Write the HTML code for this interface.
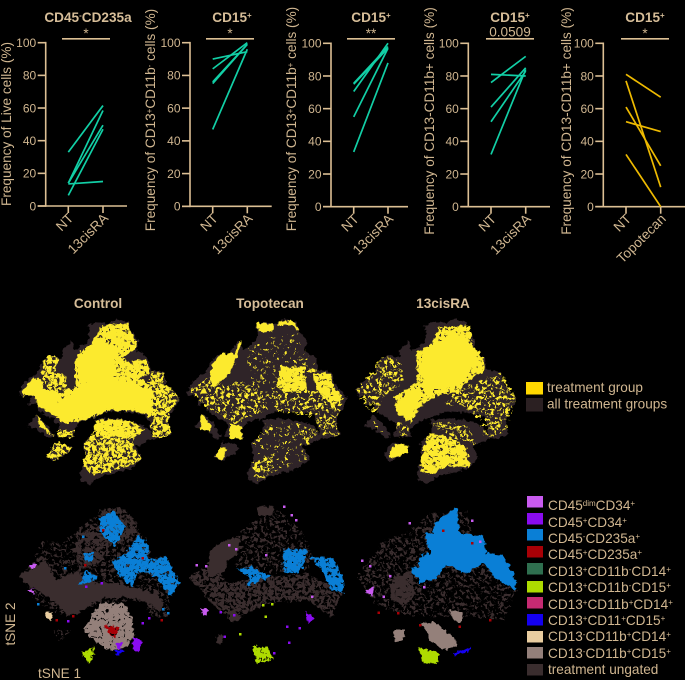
<!DOCTYPE html>
<html lang="en">
<head>
<meta charset="utf-8">
<title>Treatment response and tSNE maps</title>
<style>
html,body{margin:0;padding:0;background:#000;}
svg{display:block;font-family:"Liberation Sans",sans-serif;}
.t{fill:#d0b690;font-size:13.6px;}
.k{fill:#d0b690;font-size:12px;}
.b{fill:#d6bd98;font-size:13.6px;font-weight:bold;}
</style>
</head>
<body>
<svg id="fig" xmlns="http://www.w3.org/2000/svg" width="685" height="680" viewBox="0 0 685 680">
<defs>
<filter id="rough" filterUnits="userSpaceOnUse" x="0" y="280" width="685" height="400" color-interpolation-filters="sRGB">
<feTurbulence type="fractalNoise" baseFrequency="0.24" numOctaves="2" seed="4"/>
<feDisplacementMap in="SourceGraphic" scale="6" xChannelSelector="R" yChannelSelector="G"/>
</filter>
<filter id="speckD" filterUnits="userSpaceOnUse" x="0" y="280" width="685" height="400" color-interpolation-filters="sRGB">
<feTurbulence type="fractalNoise" baseFrequency="0.33" numOctaves="2" seed="11" result="n"/>
<feColorMatrix in="n" type="matrix" values="0 0 0 0 0 0 0 0 0 0 0 0 0 0 0 18 0 0 0 -5.4" result="m"/>
<feComposite in="SourceGraphic" in2="m" operator="in"/>
</filter>
<filter id="speckM" filterUnits="userSpaceOnUse" x="0" y="280" width="685" height="400" color-interpolation-filters="sRGB">
<feTurbulence type="fractalNoise" baseFrequency="0.33" numOctaves="2" seed="23" result="n"/>
<feColorMatrix in="n" type="matrix" values="0 0 0 0 0 0 0 0 0 0 0 0 0 0 0 18 0 0 0 -7.6" result="m"/>
<feComposite in="SourceGraphic" in2="m" operator="in"/>
</filter>
<filter id="speckS" filterUnits="userSpaceOnUse" x="0" y="280" width="685" height="400" color-interpolation-filters="sRGB">
<feTurbulence type="fractalNoise" baseFrequency="0.33" numOctaves="2" seed="37" result="n"/>
<feColorMatrix in="n" type="matrix" values="0 0 0 0 0 0 0 0 0 0 0 0 0 0 0 18 0 0 0 -9.7" result="m"/>
<feComposite in="SourceGraphic" in2="m" operator="in"/>
</filter>
<filter id="speckX" filterUnits="userSpaceOnUse" x="0" y="280" width="685" height="400" color-interpolation-filters="sRGB">
<feTurbulence type="fractalNoise" baseFrequency="0.33" numOctaves="2" seed="51" result="n"/>
<feColorMatrix in="n" type="matrix" values="0 0 0 0 0 0 0 0 0 0 0 0 0 0 0 18 0 0 0 -11.5" result="m"/>
<feComposite in="SourceGraphic" in2="m" operator="in"/>
</filter>
</defs>

<!-- chart titles -->
<text class="b" x="88" y="22" text-anchor="middle">CD45<tspan dy="-4" font-size="8">-</tspan><tspan dy="4">CD235a</tspan></text>
<text class="b" x="232" y="22" text-anchor="middle">CD15<tspan dy="-4" font-size="8">+</tspan></text>
<text class="b" x="371" y="22" text-anchor="middle">CD15<tspan dy="-4" font-size="8">+</tspan></text>
<text class="b" x="510" y="22" text-anchor="middle">CD15<tspan dy="-4" font-size="8">+</tspan></text>
<text class="b" x="645" y="22" text-anchor="middle">CD15<tspan dy="-4" font-size="8">+</tspan></text>

<!-- y axis titles -->
<text class="t" transform="translate(11,124) rotate(-90)" text-anchor="middle">Frequency of Live cells (%)</text>
<text class="t" transform="translate(155,120) rotate(-90)" text-anchor="middle">Frequency of CD13<tspan dy="-3" font-size="8">+</tspan><tspan dy="3">CD11b</tspan><tspan dy="-3" font-size="8">-</tspan><tspan dy="3"> cells (%)</tspan></text>
<text class="t" transform="translate(296,119) rotate(-90)" text-anchor="middle">Frequency of CD13<tspan dy="-3" font-size="8">+</tspan><tspan dy="3">CD11b</tspan><tspan dy="-3" font-size="8">+</tspan><tspan dy="3"> cells (%)</tspan></text>
<text class="t" transform="translate(434,121) rotate(-90)" text-anchor="middle">Frequency of CD13-CD11b+ cells (%)</text>
<text class="t" transform="translate(571,121) rotate(-90)" text-anchor="middle">Frequency of CD13-CD11b+ cells (%)</text>

<g id="charts"></g>

<!-- tSNE headings -->
<text class="b" x="98" y="308" text-anchor="middle">Control</text>
<text class="b" x="270" y="308" text-anchor="middle">Topotecan</text>
<text class="b" x="443" y="308" text-anchor="middle">13cisRA</text>

<g id="tsne"></g>

<!-- treatment legend -->
<g>
<rect x="526" y="382" width="17" height="12.5" fill="#ffd800"/>
<text class="t" x="547" y="392">treatment group</text>
<rect x="526" y="398" width="17" height="13.5" fill="#2b2022"/>
<text class="t" x="547" y="408.5">all treatment groups</text>
</g>

<!-- population legend -->
<g>
<rect x="527" y="496" width="16" height="11.5" fill="#c95bf0"/>
<text class="t" x="548" y="510">CD45<tspan dy="-4" font-size="8">dim</tspan><tspan dy="4">CD34</tspan><tspan dy="-4" font-size="8">+</tspan></text>
<rect x="527" y="513" width="16" height="11.5" fill="#8a0cf0"/>
<text class="t" x="548" y="527">CD45<tspan dy="-4" font-size="8">+</tspan><tspan dy="4">CD34</tspan><tspan dy="-4" font-size="8">+</tspan></text>
<rect x="527" y="529" width="16" height="11.5" fill="#0a7fd6"/>
<text class="t" x="548" y="543">CD45<tspan dy="-4" font-size="8">-</tspan><tspan dy="4">CD235a</tspan><tspan dy="-4" font-size="8">+</tspan></text>
<rect x="527" y="546" width="16" height="11.5" fill="#a80006"/>
<text class="t" x="548" y="559">CD45<tspan dy="-4" font-size="8">+</tspan><tspan dy="4">CD235a</tspan><tspan dy="-4" font-size="8">+</tspan></text>
<rect x="527" y="563" width="16" height="11.5" fill="#2f6f4f"/>
<text class="t" x="548" y="576">CD13<tspan dy="-4" font-size="8">+</tspan><tspan dy="4">CD11b</tspan><tspan dy="-4" font-size="8">-</tspan><tspan dy="4">CD14</tspan><tspan dy="-4" font-size="8">+</tspan></text>
<rect x="527" y="581" width="16" height="11.5" fill="#aedb00"/>
<text class="t" x="548" y="592">CD13<tspan dy="-4" font-size="8">+</tspan><tspan dy="4">CD11b</tspan><tspan dy="-4" font-size="8">-</tspan><tspan dy="4">CD15</tspan><tspan dy="-4" font-size="8">+</tspan></text>
<rect x="527" y="597" width="16" height="11.5" fill="#c62a72"/>
<text class="t" x="548" y="609">CD13<tspan dy="-4" font-size="8">+</tspan><tspan dy="4">CD11b</tspan><tspan dy="-4" font-size="8">+</tspan><tspan dy="4">CD14</tspan><tspan dy="-4" font-size="8">+</tspan></text>
<rect x="527" y="614" width="16" height="11.5" fill="#1400f0"/>
<text class="t" x="548" y="625">CD13<tspan dy="-4" font-size="8">+</tspan><tspan dy="4">CD11</tspan><tspan dy="-4" font-size="8">+</tspan><tspan dy="4">CD15</tspan><tspan dy="-4" font-size="8">+</tspan></text>
<rect x="527" y="631" width="16" height="11.5" fill="#e9cda0"/>
<text class="t" x="548" y="641">CD13<tspan dy="-4" font-size="8">-</tspan><tspan dy="4">CD11b</tspan><tspan dy="-4" font-size="8">+</tspan><tspan dy="4">CD14</tspan><tspan dy="-4" font-size="8">+</tspan></text>
<rect x="527" y="647" width="16" height="11.5" fill="#94807a"/>
<text class="t" x="548" y="658">CD13<tspan dy="-4" font-size="8">-</tspan><tspan dy="4">CD11b</tspan><tspan dy="-4" font-size="8">+</tspan><tspan dy="4">CD15</tspan><tspan dy="-4" font-size="8">+</tspan></text>
<rect x="527" y="664" width="16" height="11.5" fill="#3a2d2e"/>
<text class="t" x="548" y="674">treatment ungated</text>
</g>

<text class="t" transform="translate(15,624) rotate(-90)" text-anchor="middle">tSNE 2</text>
<text class="t" x="38" y="678">tSNE 1</text>

<script>
const NS = 'http://www.w3.org/2000/svg';
const yTicks = [0, 20, 40, 60, 80, 100];

// paired line chart values
const liveBefore = [33, 14, 14, 13.5, 6.5];
const liveAfter = [61.5, 58.5, 49.5, 15, 47];
const cd11bNegBefore = [90, 84, 76, 75, 47];
const cd11bNegAfter = [94.5, 100, 99, 99, 96];
const cd11bPosBefore = [75.5, 75, 70.5, 55, 33.5];
const cd11bPosAfter = [98, 97, 100, 97, 88];
const negPosBefore = [81, 76, 61, 52, 32];
const negPosAfter = [80, 92, 85, 83, 84];
const topoBefore = [81, 77, 61, 52, 32];
const topoAfter = [67, 12, 25, 46, 0];

const charts = [
  {name:'live', ax:45.7, top:42.7, base:206, x0:68.3, x1:103, end:127, before:liveBefore, after:liveAfter, color:'#12cfa6', labels:['NT','13cisRA'], sig:'*', sigX:[62,110]},
  {name:'cd11b-neg', ax:190, top:42.7, base:206.3, x0:212.7, x1:247.3, end:271.7, before:cd11bNegBefore, after:cd11bNegAfter, color:'#12cfa6', labels:['NT','13cisRA'], sig:'*', sigX:[206,254]},
  {name:'cd11b-pos', ax:331, top:43.3, base:206.7, x0:353.7, x1:388, end:408, before:cd11bPosBefore, after:cd11bPosAfter, color:'#12cfa6', labels:['NT','13cisRA'], sig:'**', sigX:[347,395]},
  {name:'neg-pos', ax:468.3, top:43.3, base:206.7, x0:491, x1:525.7, end:550, before:negPosBefore, after:negPosAfter, color:'#12cfa6', labels:['NT','13cisRA'], sig:'0.0509', sigX:[486,534]},
  {name:'topotecan', ax:603.3, top:43.3, base:206.7, x0:626, x1:660.7, end:685, before:topoBefore, after:topoAfter, color:'#eeba00', labels:['NT','Topotecan'], sig:'*', sigX:[621,669]}
];

function mk(parent, tag, attrs, text) {
  const el = document.createElementNS(NS, tag);
  for (const k in attrs) el.setAttribute(k, attrs[k]);
  if (text !== undefined) el.textContent = text;
  parent.appendChild(el);
  return el;
}

const AXIS = '#dcbf94';
const chartRoot = document.getElementById('charts');
charts.forEach(function (c) {
  const g = mk(chartRoot, 'g', {});
  
  
  const yScale = function (v) { return c.base - (c.base - c.top) * v / 100; };
  const xScale = function (i) { return i === 0 ? c.x0 : c.x1; };

  const yAxis = mk(g, 'line', {x1:c.ax, x2:c.ax, y1:c.top - 0.8, y2:c.base + 0.8, stroke:AXIS, 'stroke-width':1.6});
  
  
  const xAxis = mk(g, 'line', {x1:c.ax - 8, x2:c.end, y1:c.base, y2:c.base, stroke:AXIS, 'stroke-width':1.6});
  
  

  yTicks.forEach(function (t) {
    const tick = mk(g, 'line', {x1:c.ax - 8, x2:c.ax, y1:yScale(t), y2:yScale(t), stroke:AXIS, 'stroke-width':1.6});
    
    
    const lab = mk(g, 'text', {x:c.ax - 9.5, y:yScale(t) + 4.3, 'text-anchor':'end', 'class':'k'}, String(t));
    
    
  });

  c.labels.forEach(function (l, i) {
    const tick = mk(g, 'line', {x1:xScale(i), x2:xScale(i), y1:c.base, y2:c.base + 7, stroke:AXIS, 'stroke-width':1.6});
    
    
    const px = xScale(i) + 6, py = c.base + 13;
    const lab = mk(g, 'text', {transform:'translate(' + px + ',' + py + ') rotate(-45)', 'text-anchor':'end', 'class':'t'}, l);
    
    
  });

  c.before.forEach(function (v, i) {
    const line = mk(g, 'line', {x1:xScale(0), y1:yScale(v), x2:xScale(1), y2:yScale(c.after[i]), stroke:c.color, 'stroke-width':1.7});
    
    
  });

  const bar = mk(g, 'line', {x1:c.sigX[0], x2:c.sigX[1], y1:38.8, y2:38.8, stroke:AXIS, 'stroke-width':1.6});
  
  
  const isNum = c.sig.length > 2;
  const sig = mk(g, 'text', {x:(c.sigX[0] + c.sigX[1]) / 2, y:isNum ? 36.7 : 38, 'text-anchor':'middle', 'class':'t', 'font-size':'13px'}, c.sig);
  
  
});

// tSNE regions in map units (u,v); each map draws them through mapX / mapY
const panelOffsets = [0, 168, 337];
const rowOffsets = [290, 490];
function mapX(panel, u) { return panelOffsets[panel] + u / 3; }
function mapY(row, v) { return rowOffsets[row] + v / 3; }

const allMain = [[58,305],[70,280],[95,258],[115,248],[125,215],[150,195],[185,205],[190,180],[215,150],[222,180],[235,175],[262,155],[270,130],[262,110],[285,97],[330,100],[350,88],[385,95],[395,125],[415,150],[410,185],[420,185],[445,205],[450,240],[490,245],[500,280],[540,325],[515,365],[505,395],[515,435],[480,445],[455,445],[450,400],[435,375],[380,365],[320,365],[280,385],[240,395],[220,420],[225,440],[170,440],[180,405],[155,385],[135,375],[115,360],[110,340],[85,345],[95,320],[60,315]];
const allLeft = [[110,375],[145,410],[160,440],[145,445],[110,415],[80,410]];
const allLower = [[285,390],[340,385],[400,395],[440,410],[460,445],[420,465],[405,465],[425,505],[395,535],[340,550],[300,560],[270,582],[245,572],[240,550],[255,505],[250,460],[285,430]];
const allSmall = [[140,500],[165,455],[220,470],[195,495],[160,512]];
const allCells = [allMain, allLeft, allLower, allSmall];

const yControlSolid = [
  [[150,355],[230,300],[300,250],[400,280],[450,300],[455,370],[380,358],[320,358],[280,378],[190,395]],
  [[240,200],[300,150],[350,170],[340,250],[235,280]],
  [[100,300],[175,300],[175,380],[115,350]],
  [[62,305],[100,262],[125,270],[135,315],[105,318],[70,316]]
];
const yControlDense = [
  [[150,360],[135,330],[175,310],[225,290],[225,215],[240,185],[270,165],[290,130],[300,110],[340,100],[385,100],[395,130],[412,155],[405,180],[370,200],[380,215],[440,210],[448,250],[420,265],[455,290],[460,340],[450,385],[430,370],[380,362],[320,362],[280,382],[240,392],[190,400],[165,380]],
  [[285,392],[340,388],[400,395],[435,420],[400,440],[330,440],[280,425]],
  [[110,375],[160,440],[120,410]]
];
const yControlMed = [
  [[125,215],[150,195],[180,205],[165,240],[200,260],[195,300],[160,310],[135,280],[125,250]],
  [[440,290],[455,245],[490,248],[500,280],[538,325],[510,365],[505,395],[515,435],[480,445],[455,440],[455,380]],
  [[280,425],[400,440],[400,470],[255,460]],
  [[255,460],[300,440],[370,450],[400,470],[425,505],[390,528],[320,545],[275,555],[250,525]],
  [[140,500],[165,455],[220,470],[195,495],[160,512]],
  [[170,420],[225,420],[225,440],[170,442]]
];

const yTopoSolid = [
  [[136,215],[166,190],[196,190],[221,150],[206,210],[176,260],[136,290],[121,260]],
  [[266,100],[316,100],[316,125],[271,125]],
  [[331,95],[376,90],[391,120],[366,105],[331,105]],
  [[101,370],[126,400],[126,425],[96,420]],
  [[186,400],[221,410],[221,445],[186,445]],
  [[156,470],[176,480],[161,510],[144,500]]
];
const yTopoDense = [
  [[340,230],[410,230],[415,300],[350,310],[325,290]],
  [[436,250],[486,250],[496,290],[526,320],[496,350],[446,300]]
];
const yTopoMed = [
  [[60,300],[120,265],[180,290],[220,270],[290,320],[300,360],[200,400],[150,370],[110,350],[90,325]],
  [[300,320],[420,300],[526,320],[505,395],[510,435],[470,440],[440,380],[330,365]],
  [[380,400],[450,420],[420,465],[400,440]],
  [[250,515],[320,490],[315,545],[265,570]]
];
const yTopoSparse = [
  [[240,170],[310,140],[390,130],[420,190],[450,240],[340,330],[240,310]],
  [[250,450],[290,400],[400,400],[420,510],[330,550],[265,570]]
];

const yCisSolid = [
  [[174,335],[245,290],[245,330],[220,392],[180,365]],
  [[255,205],[340,130],[395,150],[425,215],[355,290],[265,300]],
  [[155,495],[174,460],[215,468],[210,488],[162,505]]
];
const yCisDense = [
  [[174,320],[239,280],[239,190],[279,165],[309,110],[399,105],[409,170],[439,200],[444,240],[409,260],[359,310],[299,315],[249,350],[224,400],[179,370]],
  [[249,540],[259,470],[279,430],[340,440],[385,470],[389,480],[399,530],[329,530],[279,555]]
];
const yCisMed = [
  [[59,300],[139,195],[194,215],[199,280],[139,320],[119,370],[84,350]],
  [[389,285],[489,250],[539,320],[509,420],[479,440],[439,440],[429,390],[379,350],[319,340]],
  [[279,400],[339,395],[394,410],[419,465],[340,440]],
  [[174,400],[199,400],[224,420],[189,445]],
  [[99,380],[139,425],[110,410]]
];

const nControlSolid = [[[60,255],[110,230],[135,210],[170,270],[230,245],[290,280],[350,280],[420,300],[470,310],[490,340],[480,365],[440,335],[380,320],[310,325],[270,345],[240,370],[200,375],[170,340],[110,300],[80,280]]];
const nControlMed = [[[225,130],[290,110],[330,160],[300,220],[250,240],[230,210]], [[300,60],[360,50],[410,95],[415,125],[360,160],[300,110]]];
const nControlSparse = [[[60,260],[100,210],[130,150],[180,160],[225,125],[270,90],[300,60],[360,50],[410,95],[415,125],[440,145],[450,200],[500,200],[540,280],[510,330],[500,380],[450,380],[430,330],[300,340],[200,380],[110,340]], [[160,420],[220,420],[190,440],[170,455]]];
const bControl = [[[300,85],[340,60],[375,110],[345,170],[300,130]], [[335,215],[380,190],[415,135],[445,165],[445,210],[500,200],[540,280],[515,320],[490,290],[470,260],[415,240],[400,290],[360,260]], [[235,285],[260,240],[295,265],[270,275]], [[250,190],[280,185],[275,215],[255,215]]];
const tanControl = [[[250,415],[300,340],[370,340],[395,380],[405,440],[380,470],[330,482],[270,445]]];
const redControl = [[[315,405],[360,410],[345,445],[325,430]]];
const purpleControl = [[[400,440],[425,450],[420,485],[400,480]], [[345,460],[370,455],[360,480]]];
const deepBlueControl = [[[345,480],[375,480],[350,497]]];
const limeControl = [[[245,490],[280,470],[285,495],[265,520]]];
const magentaControl = [[[85,225],[112,225],[100,238]], [[82,298],[100,293],[98,316]]];
const peachControl = [[[137,365],[157,368],[153,392],[137,385]]];

const nTopoSolid = [[[136,170],[196,140],[216,150],[210,190],[176,215],[176,240],[120,260],[120,210]], [[266,50],[316,50],[311,75],[271,75]], [[146,430],[168,440],[161,465],[146,460]], [[186,360],[221,380],[211,395],[186,395]]];
const nTopoMed = [[[61,260],[136,220],[180,280],[296,260],[420,250],[526,310],[490,380],[420,330],[296,340],[190,390],[130,340],[90,290]]];
const nTopoSparse = [[[180,160],[260,90],[330,60],[400,120],[440,200],[420,240],[300,250],[200,230]]];
const bTopo = [[[346,178],[416,178],[411,225],[385,250],[346,245]], [[426,200],[496,205],[526,265],[526,310],[490,300],[466,250]], [[205,235],[250,230],[310,260],[265,275],[236,290],[245,265]]];
const limeTopo = [[[251,468],[296,468],[316,510],[266,520]]];
const magentaTopo = [[[96,352],[121,360],[111,378]]];
const purpleTopo = [[[411,365],[441,385],[421,400]]];

const bCis = [[[294,100],[359,50],[369,130],[439,140],[449,190],[499,195],[539,275],[534,300],[479,270],[439,220],[389,250],[329,225],[309,250],[299,265],[249,280],[219,235],[249,230],[249,195],[279,190],[264,130],[289,130]]];
const nCisSolid = [[[160,270],[224,240],[234,320],[199,350],[159,320]]];
const nCisSparse = [[[59,260],[139,150],[209,130],[279,70],[389,60],[420,190],[539,300],[500,390],[400,380],[230,380],[120,350]]];
const tanCis = [[[254,400],[289,395],[349,440],[359,470],[319,480],[279,450]], [[169,420],[204,420],[199,450],[174,455]], [[340,360],[375,365],[375,400],[350,390]]];
const limeCis = [[[244,470],[309,490],[299,520],[259,520]]];
const magentaCis = [[[84,305],[109,290],[104,315]]];
const deepBlueCis = [[[344,490],[404,470],[394,485],[354,495]]];

// single cells scattered outside the main clusters: [u, v]
const magentaCellsTopo = [[184,165],[205,178],[86,225],[115,228],[295,195],[349,50],[371,75],[385,90],[432,320]];
const purpleCellsTopo = [[158,367],[198,375],[358,410],[395,415],[318,490],[364,458],[170,440]];
const limeCellsTopo = [[285,345],[293,380],[313,343],[217,432]];
const purpleCellsControl = [[447,385],[428,400],[205,393],[305,280],[258,290]];
const redCellsControl = [[170,390],[220,378],[485,390],[310,120],[255,225],[428,205]];
const blueCellsControl = [[115,342],[505,370],[490,358],[250,140],[195,235]];
const magentaCellsCis = [[76,212],[100,228],[160,258],[262,292],[140,320],[218,100],[405,92],[430,155]];
const redCellsCis = [[125,368],[184,370],[250,405],[368,410],[460,390],[318,122],[405,160]];

const root = document.getElementById('tsne');
function blobs(parent, panel, row, polys, fill) {
  polys.forEach(function (poly) {
    const pts = poly.map(function (p) { return mapX(panel, p[0]).toFixed(1) + ',' + mapY(row, p[1]).toFixed(1); }).join(' ');
    const el = mk(parent, 'polygon', {points:pts, fill:fill});
    
    
  });
}
function cells(name, panel, row, list, fill) {
  const g = mk(root, 'g', {fill:fill, 'shape-rendering':'crispEdges'});
  
  
  list.forEach(function (p) {
    const el = mk(g, 'rect', {x:mapX(panel, p[0]) - 1.2, y:mapY(row, p[1]) - 1.2, width:2.6, height:2.6});
    
    
  });
}
function map(name, panel, row, layers) {
  const g = mk(root, 'g', {filter:'url(#rough)'});
  
  
  layers.forEach(function (l) {
    const layer = l[2] ? mk(g, 'g', {filter:'url(#' + l[2] + ')'}) : mk(g, 'g', {});
    
    
    blobs(layer, panel, row, l[0], l[1]);
  });
}
const DARK = '#2f2428', BR = '#3a2d2e', YEL = '#fcea2e', BLU = '#0a7fd6';
map('tsne-treatment-control', 0, 0, [[allCells, DARK], [yControlMed, YEL, 'speckM'], [yControlDense, YEL, 'speckD'], [yControlSolid, YEL]]);
map('tsne-treatment-topotecan', 1, 0, [[allCells, DARK], [yTopoSparse, YEL, 'speckX'], [yTopoMed, YEL, 'speckS'], [yTopoDense, YEL, 'speckD'], [yTopoSolid, YEL]]);
map('tsne-treatment-13cisra', 2, 0, [[allCells, DARK], [yCisMed, YEL, 'speckS'], [yCisDense, YEL, 'speckD'], [yCisSolid, YEL]]);
map('tsne-population-control', 0, 1, [[nControlSparse, BR, 'speckS'], [nControlMed, BR, 'speckM'], [nControlSolid, BR], [bControl, BLU, 'speckD'], [tanControl, '#94807a', 'speckD'], [redControl, '#a80006', 'speckD'], [purpleControl, '#8a0cf0'], [deepBlueControl, '#1400f0'], [limeControl, '#aedb00', 'speckD'], [magentaControl, '#c95bf0'], [peachControl, '#e9cda0']]);
map('tsne-population-topotecan', 1, 1, [[nTopoSparse, BR, 'speckS'], [nTopoMed, BR, 'speckM'], [nTopoSolid, BR], [bTopo, BLU, 'speckD'], [limeTopo, '#aedb00', 'speckD'], [magentaTopo, '#c95bf0'], [purpleTopo, '#8a0cf0']]);
map('tsne-population-13cisra', 2, 1, [[nCisSparse, BR, 'speckS'], [nCisSolid, BR, 'speckD'], [bCis, BLU], [tanCis, '#94807a'], [limeCis, '#aedb00'], [magentaCis, '#c95bf0'], [deepBlueCis, '#1400f0']]);
cells('control-dots-purple', 0, 1, purpleCellsControl, '#8a0cf0');
cells('control-dots-red', 0, 1, redCellsControl, '#a80006');
cells('control-dots-blue', 0, 1, blueCellsControl, '#0a7fd6');
cells('topotecan-dots-magenta', 1, 1, magentaCellsTopo, '#c95bf0');
cells('topotecan-dots-purple', 1, 1, purpleCellsTopo, '#8a0cf0');
cells('topotecan-dots-lime', 1, 1, limeCellsTopo, '#aedb00');
cells('cisra-dots-magenta', 2, 1, magentaCellsCis, '#c95bf0');
cells('cisra-dots-red', 2, 1, redCellsCis, '#a80006');
</script>
</svg>
</body>
</html>
